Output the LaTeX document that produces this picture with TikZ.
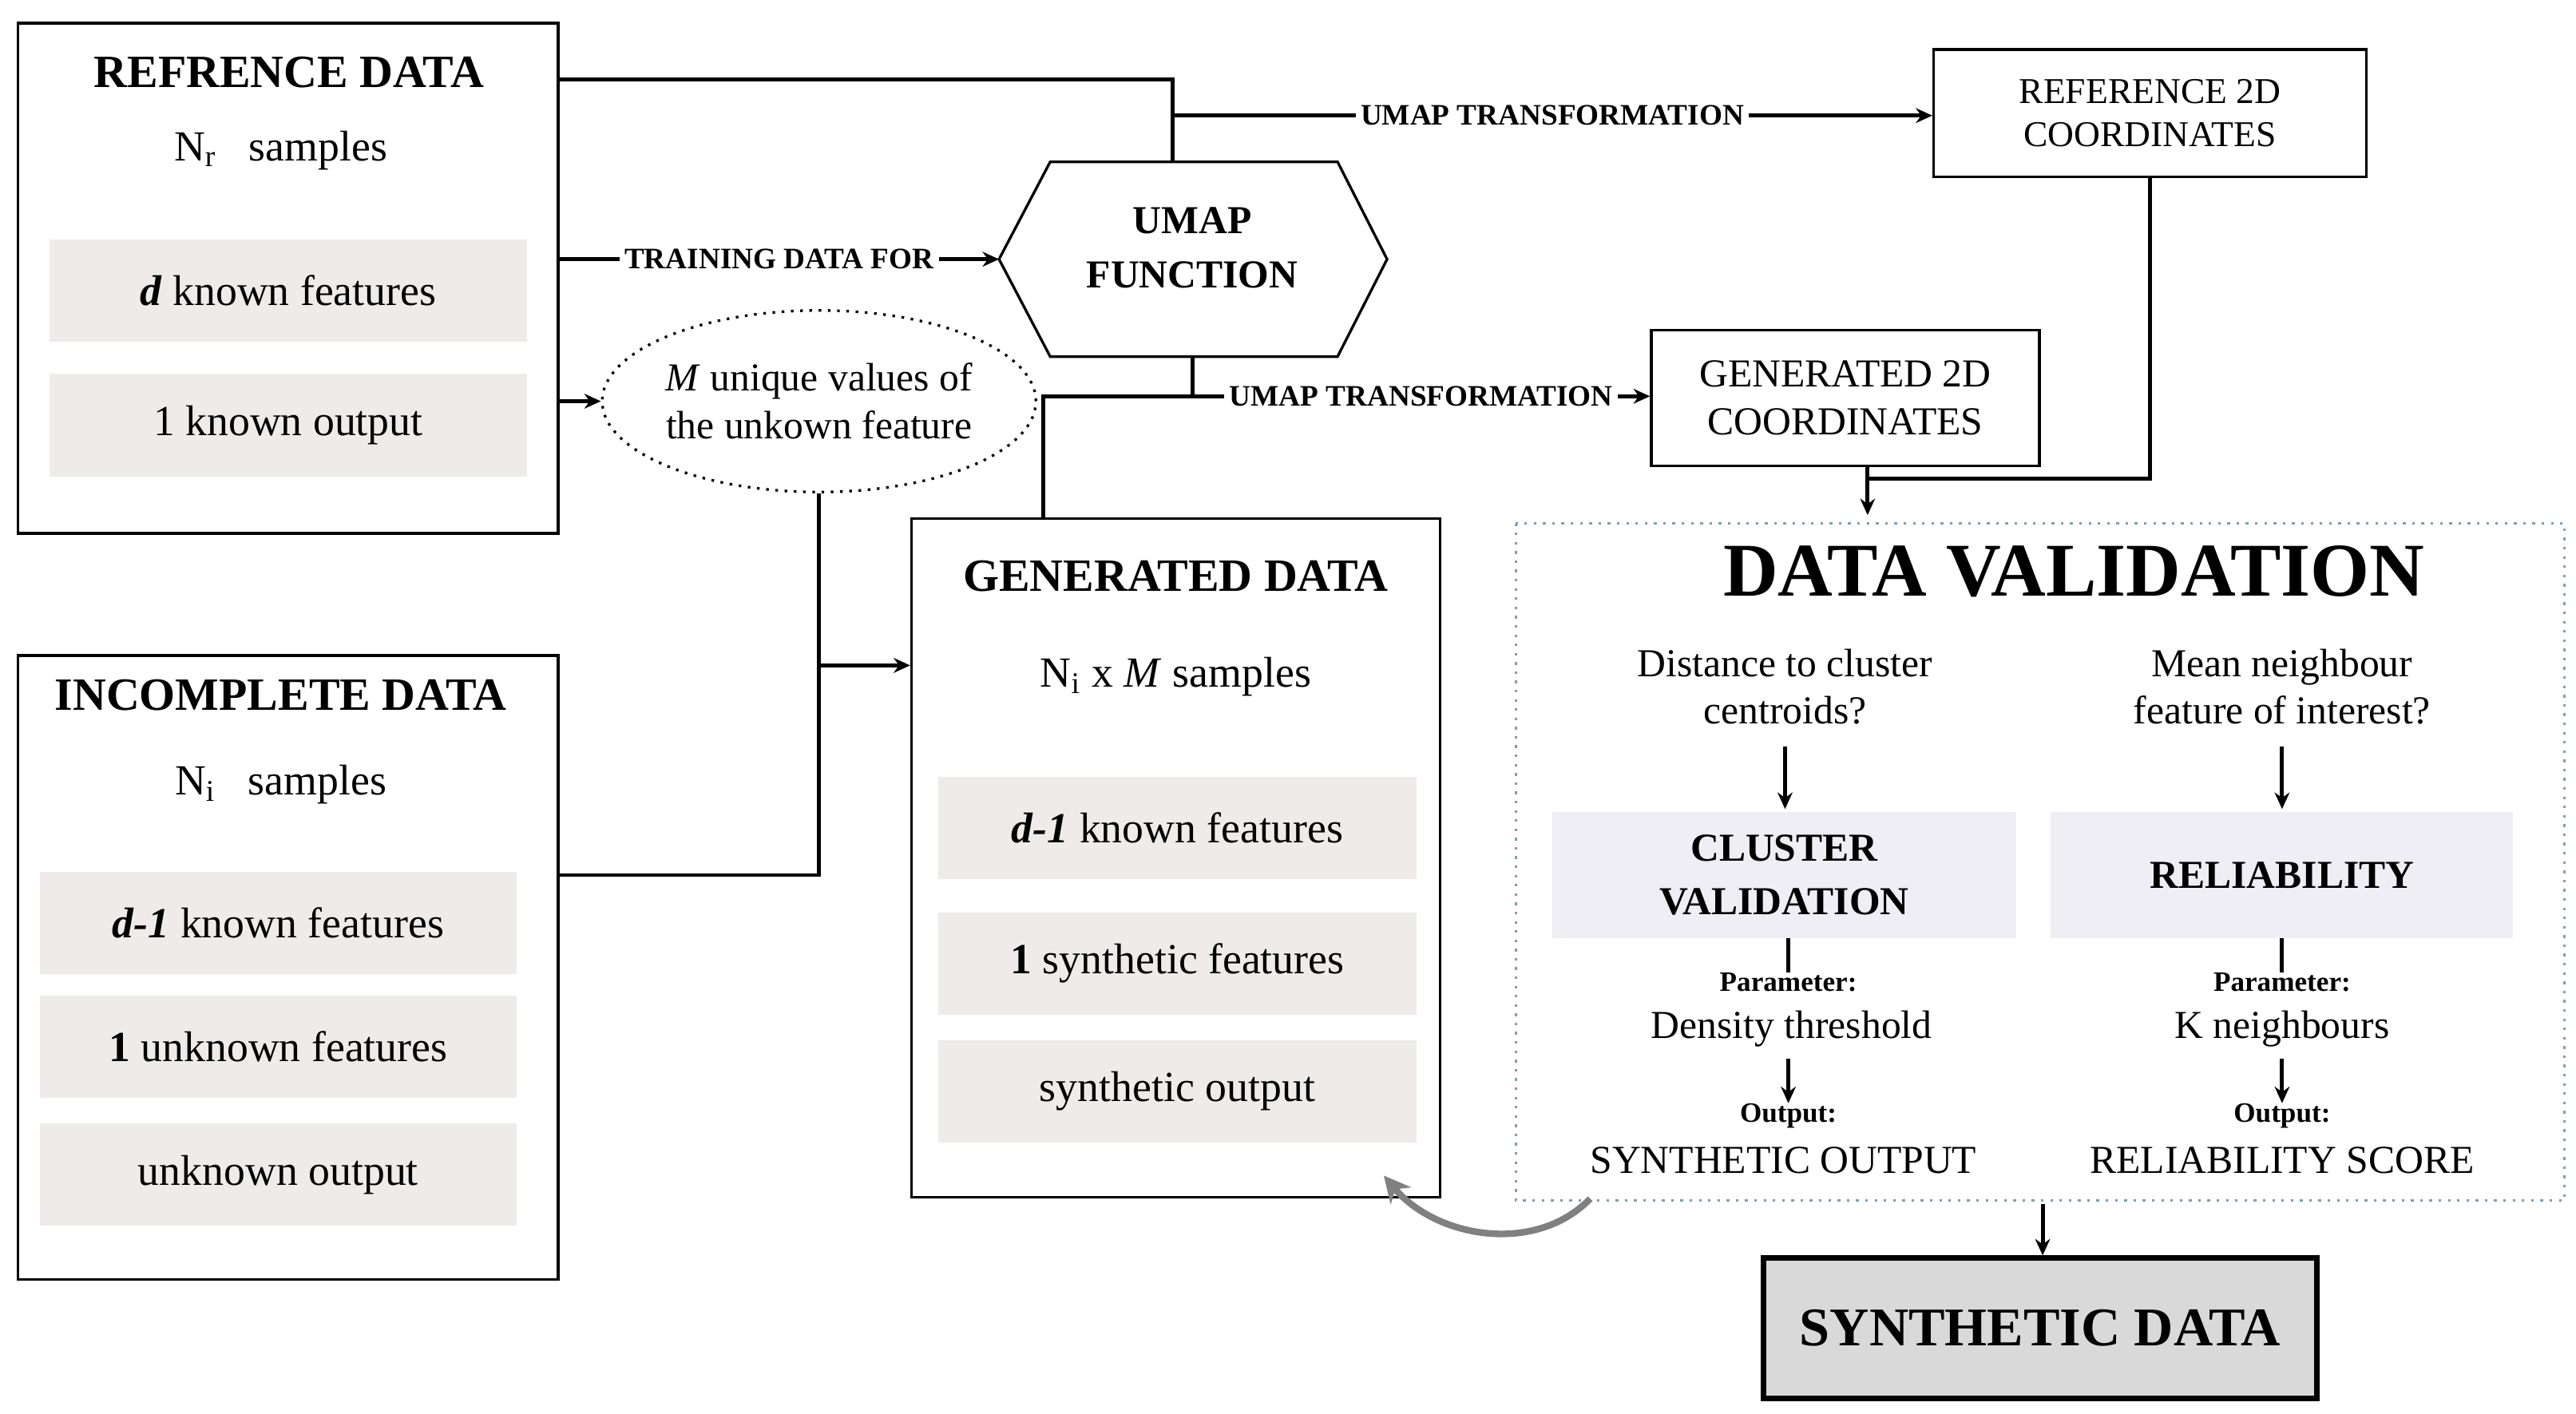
\documentclass[tikz,border=0pt]{standalone}
\usepackage{fontspec}
\setmainfont{Liberation Serif}
\usetikzlibrary{shapes.geometric,arrows.meta}
\definecolor{gbox}{HTML}{EEEBEA}
\definecolor{bbox}{HTML}{EEEEF4}
\definecolor{sbox}{HTML}{D9D9D9}
\definecolor{dvb}{HTML}{7F9DB0}
\newcommand{\fs}[1]{\fontsize{#1}{\dimexpr#1pt*12/10\relax}\selectfont}
\tikzset{
 box/.style={draw,line width=0.8pt},
 feat/.style={fill=gbox,minimum width=144.5pt,minimum height=31pt,font=\fs{13}},
 title/.style={font=\fs{14}\bfseries},
 txt/.style={font=\fs{13}},
 lbl/.style={font=\fs{9}\bfseries,fill=white,inner sep=1.5pt},
 ln/.style={line width=1.2pt},
 arr/.style={line width=1.2pt,-{Stealth[length=5pt,width=4.5pt]}},
 small/.style={font=\fs{8.5}\bfseries,inner sep=0pt},
}
\begin{document}
\begin{tikzpicture}[x=0.5pt,y=-0.5pt]
\useasboundingbox (0,0) rectangle (1560,856);
% reference data
\node[box,minimum width=163.5pt,minimum height=154.5pt] (ref) at (174.5,168.5) {};
\node[title] (reft) at (175,44) {REFRENCE DATA};
\node[txt] (refn) at (170,91) {N\textsubscript{r}\ \ \ samples};
\node[feat] (rf1) at (174.5,176) {\textbf{\textit{d}} known features};
\node[feat] (rf2) at (174.5,257.5) {1 known output};
% incomplete
\node[box,minimum width=163.5pt,minimum height=189pt] (inc) at (174.5,586) {};
\node[title] (inct) at (170,421) {INCOMPLETE DATA};
\node[txt] (incn) at (170,475) {N\textsubscript{i}\ \ \ samples};
\node[feat] (if1) at (168.5,559) {\textbf{\textit{d-1}} known features};
\node[feat] (if2) at (168.5,634) {\textbf{1} unknown features};
\node[feat] (if3) at (168.5,711.5) {unknown output};
% generated
\node[box,minimum width=160pt,minimum height=205.5pt] (gen) at (712,519.5) {};
\node[title] (gent) at (712,349) {GENERATED DATA};
\node[txt] (genn) at (712,410) {N\textsubscript{i} x \textit{M} samples};
\node[feat,minimum width=145pt] (gf1) at (713,501.5) {\textbf{\textit{d-1}} known features};
\node[feat,minimum width=145pt] (gf2) at (713,583.5) {\textbf{1} synthetic features};
\node[feat,minimum width=145pt] (gf3) at (713,661) {synthetic output};
% UMAP hexagon
\draw[box] (605,157)--(636,98)--(810,98)--(840,157)--(810,216)--(636,216)--cycle;
\node[font=\fs{12}\bfseries,align=center] (umap) at (722,150) {UMAP\\[2pt]FUNCTION};
\coordinate (hexL) at (605,157);
% ellipse
\node[draw,dotted,line width=0.8pt,ellipse,minimum width=116pt,minimum height=55pt,font=\fs{12},align=center,inner sep=0pt] (ell) at (496,243) {\textit{M} unique values of\\the unkown feature};
% 2D boxes
\node[box,minimum width=131pt,minimum height=38.5pt,font=\fs{11},align=center] (r2d) at (1302,68.5) {REFERENCE 2D\\COORDINATES};
\node[box,minimum width=117.5pt,minimum height=41pt,font=\fs{12},align=center] (g2d) at (1117.5,241) {GENERATED 2D\\COORDINATES};
% data validation
\draw[dvb,dotted,line width=0.8pt] (918,317) rectangle (1553,727);
\node[font=\fs{23}\bfseries] (dvt) at (1256,346) {DATA VALIDATION};
\node[font=\fs{12},align=center] (q1) at (1081,416) {Distance to cluster\\centroids?};
\node[font=\fs{12},align=center] (q2) at (1382,416) {Mean neighbour\\feature of interest?};
\node[fill=bbox,minimum width=140.5pt,minimum height=38pt,font=\fs{12}\bfseries,align=center] (cv) at (1080.5,530) {CLUSTER\\[2pt]VALIDATION};
\node[fill=bbox,minimum width=140pt,minimum height=38pt,font=\fs{12}\bfseries] (rel) at (1382,530) {RELIABILITY};
\node[small] (p1) at (1083,595) {Parameter:};
\node[small] (p2) at (1382,595) {Parameter:};
\node[font=\fs{12}] (dt) at (1085,623) {Density threshold};
\node[font=\fs{12}] (kn) at (1382,623) {K neighbours};
\node[small] (o1) at (1083,676) {Output:};
\node[small] (o2) at (1382,676) {Output:};
\node[font=\fs{12}] (so) at (1080,703) {SYNTHETIC OUTPUT};
\node[font=\fs{12}] (rs) at (1382,703) {RELIABILITY SCORE};
\draw[arr] (1081,452)--(1081,490);
\draw[arr] (1382,452)--(1382,490);
\draw[ln] (1083,568)--(p1.north);
\draw[ln] (1382,568)--(p2.north);
\draw[arr] (1083,641)--(o1.north);
\draw[arr] (1382,641)--(o2.north);
% synthetic data
\node[draw,line width=1.6pt,fill=sbox,minimum width=167.5pt,minimum height=42.5pt,font=\fs{16.5}\bfseries] (syn) at (1235.5,804.5) {SYNTHETIC DATA};
\coordinate (dvb) at (1237,729);
\draw[arr] (dvb)--(syn.north -| dvb);
\draw[gray,line width=2pt,-{Stealth[length=8pt,width=8pt]}] (963,726) .. controls (930,760) and (870,750) .. (838,712);
% connectors
\coordinate (j1) at (710,48);
\coordinate (j2) at (710,70);
\draw[ln] (ref.east |- j1)--(j1)--(710,98);
\draw[arr] (j2)--node[lbl]{UMAP TRANSFORMATION}(r2d.west |- j2);
\draw[arr] (ref.east |- hexL)--node[lbl,pos=0.5]{TRAINING DATA FOR}(hexL);
\draw[arr] (ref.east |- ell)--(ell.west);
\coordinate (j3) at (496,530);
\coordinate (j4) at (496,403);
\draw[ln] (ell.south)--(j3)--(inc.east |- j3);
\draw[arr] (j4)--(gen.west |- j4);
\coordinate (j5) at (632,240);
\coordinate (j6) at (722,240);
\draw[ln] (632,314)--(j5)--(j6)--(722,216);
\draw[arr] (j6)--node[lbl]{UMAP TRANSFORMATION}(g2d.west |- j6);
\coordinate (j7) at (1302,290);
\coordinate (j8) at (1131,290);
\draw[ln] (r2d.south -| j7)--(j7)--(j8);
\draw[arr] (1131,282)--(1131,312);
\end{tikzpicture}
\end{document}
